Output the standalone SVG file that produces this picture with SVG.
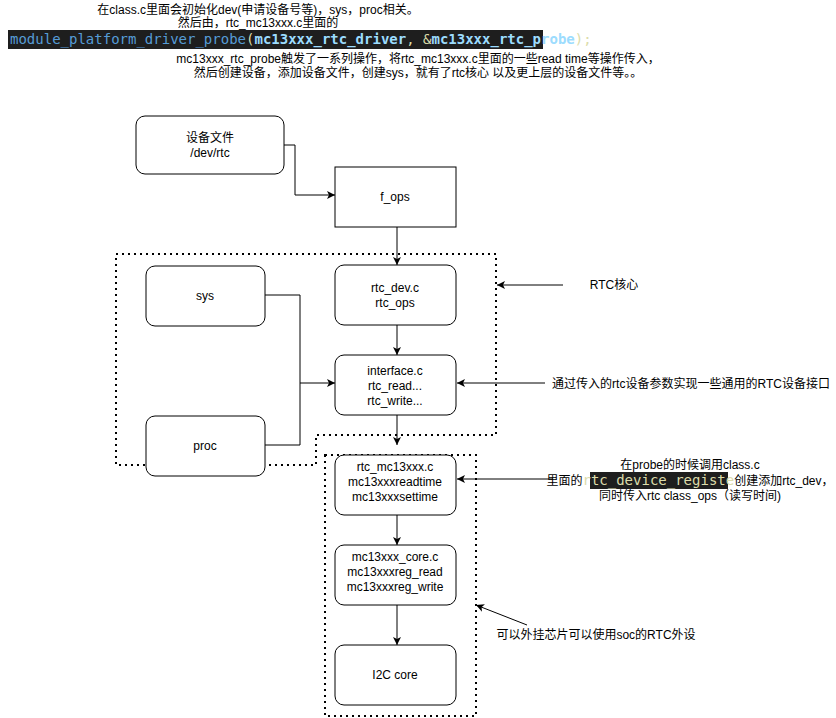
<svg xmlns="http://www.w3.org/2000/svg" width="836" height="718" viewBox="0 0 836 718">
<style>
text{font-family:"Liberation Sans","Noto Sans CJK SC",sans-serif;font-size:12px;fill:#000;text-anchor:middle}
.b{fill:#fff;stroke:#000;stroke-width:1}
.c{stroke:#000;fill:none;stroke-width:1}
.d{stroke:#000;fill:none;stroke-width:2;stroke-dasharray:2 4}
.m{font-family:"DejaVu Sans Mono","Liberation Mono",monospace;font-size:14px;text-anchor:start}
</style>
<defs><marker id="a" markerWidth="10" markerHeight="10" refX="9" refY="5" orient="auto" markerUnits="userSpaceOnUse"><path d="M1,1 L9,5 L1,9 L3,5 Z" fill="#000"/></marker></defs>
<rect width="836" height="718" fill="#fff"/>
<g id="texts">
<text x="258" y="14">在class.c里面会初始化dev(申请设备号等)，sys，proc相关。</text>
<text x="258" y="27">然后由，rtc_mc13xxx.c里面的</text>
<rect x="8" y="30" width="535" height="19" fill="#1e1e1e"/>
<text class="m" x="10" y="44"><tspan fill="#569cd6">module_platform_driver_probe</tspan><tspan fill="#dcdcaa">(</tspan><tspan fill="#9cdcfe" font-weight="bold">mc13xxx_rtc_driver</tspan><tspan fill="#dcdcaa">, &amp;</tspan><tspan fill="#9cdcfe" font-weight="bold">mc13xxx_rtc_probe</tspan><tspan fill="#dcdcaa">);</tspan></text>
<text x="418" y="63">mc13xxx_rtc_probe触发了一系列操作，将rtc_mc13xxx.c里面的一些read time等操作传入，</text>
<text x="418" y="77">然后创建设备，添加设备文件，创建sys，就有了rtc核心 以及更上层的设备文件等。。</text>
<text x="614" y="289">RTC核心</text>
<text x="691" y="388">通过传入的rtc设备参数实现一些通用的RTC设备接口</text>
<text x="690" y="469">在probe的时候调用class.c</text>
<rect x="590" y="472" width="138" height="17" fill="#1e1e1e"/>
<text x="690" y="485"><tspan fill="#000">里面的</tspan><tspan font-family="DejaVu Sans Mono,monospace" font-size="14" fill="#dcdcaa">rtc_device_registe</tspan><tspan>创建添加rtc_dev，</tspan></text>
<text x="690" y="500">同时传入rtc class_ops（读写时间)</text>
<text x="596" y="639">可以外挂芯片可以使用soc的RTC外设</text>
</g>
<g id="regions">
<path class="d" d="M116,254 H496 V435 H316 V465 H116 Z"/>
<rect class="d" x="325" y="455" width="151" height="261"/>
</g>
<g id="n1"><rect class="b" x="136" y="116" width="148" height="58" rx="9"/><text x="210" y="142">设备文件</text><text x="210" y="157">/dev/rtc</text></g>
<g id="n2"><rect class="b" x="335" y="167" width="121" height="60"/><text x="395" y="201">f_ops</text></g>
<g id="n3"><rect class="b" x="146" y="266" width="119" height="60" rx="9"/><text x="205" y="300">sys</text></g>
<g id="n4"><rect class="b" x="146" y="416" width="119" height="60" rx="9"/><text x="205" y="450">proc</text></g>
<g id="n5"><rect class="b" x="335" y="265" width="121" height="60" rx="9"/><text x="395" y="292">rtc_dev.c</text><text x="395" y="307">rtc_ops</text></g>
<g id="n6"><rect class="b" x="335" y="355" width="121" height="60" rx="9"/><text x="395" y="375">interface.c</text><text x="395" y="390">rtc_read...</text><text x="395" y="405">rtc_write...</text></g>
<g id="n7"><rect class="b" x="335" y="455" width="121" height="60" rx="9"/><text x="395" y="471">rtc_mc13xxx.c</text><text x="395" y="486">mc13xxxreadtime</text><text x="395" y="501">mc13xxxsettime</text></g>
<g id="n8"><rect class="b" x="335" y="545" width="121" height="60" rx="9"/><text x="395" y="561">mc13xxx_core.c</text><text x="395" y="576">mc13xxxreg_read</text><text x="395" y="591">mc13xxxreg_write</text></g>
<g id="n9"><rect class="b" x="335" y="645" width="121" height="60" rx="9"/><text x="395" y="679">I2C core</text></g>
<g id="connectors">
<path class="c" d="M284,145 H295 V195 H335" marker-end="url(#a)"/>
<path class="c" d="M397,227 V265" marker-end="url(#a)"/>
<path class="c" d="M397,325 V355" marker-end="url(#a)"/>
<path class="c" d="M397,415 V445" marker-end="url(#a)"/>
<path class="c" d="M265,295 H300 V383 H335" marker-end="url(#a)"/>
<path class="c" d="M265,445 H300 V383"/>
<path class="c" d="M397,515 V545" marker-end="url(#a)"/>
<path class="c" d="M397,605 V645" marker-end="url(#a)"/>
<path class="c" d="M563,285 H497" marker-end="url(#a)"/>
<path class="c" d="M545,383 H457" marker-end="url(#a)"/>
<path class="c" d="M553,479 H457" marker-end="url(#a)"/>
<path class="c" d="M527,625 L476,605" marker-end="url(#a)"/>
</g>
</svg>
